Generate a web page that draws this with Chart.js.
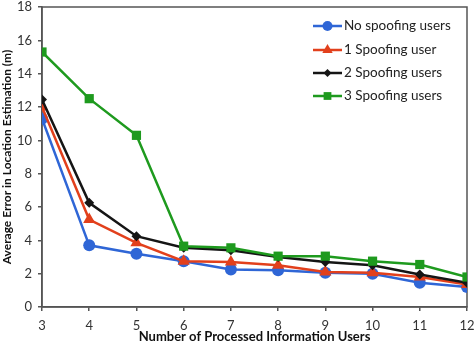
<!DOCTYPE html>
<html>
<head>
<meta charset="utf-8">
<script src="https://cdn.jsdelivr.net/npm/chart.js@4.4.1/dist/chart.umd.min.js"></script>
<style>
  html, body { margin: 0; padding: 0; background: #fff; }
  #wrap { width: 474px; height: 343px; }
</style>
</head>
<body>
<div id="wrap"><canvas id="chart" width="474" height="343"></canvas></div>
<script>
const users = [3, 4, 5, 6, 7, 8, 9, 10, 11, 12];
const noSpoof = [11.3, 3.7, 3.2, 2.75, 2.25, 2.2, 2.05, 2.0, 1.45, 1.2];
const oneSpoof = [12.0, 5.25, 3.85, 2.75, 2.7, 2.5, 2.1, 2.05, 1.8, 1.35];
const twoSpoof = [12.45, 6.25, 4.25, 3.55, 3.4, 3.0, 2.7, 2.5, 1.95, 1.45];
const threeSpoof = [15.3, 12.5, 10.3, 3.65, 3.55, 3.05, 3.05, 2.75, 2.55, 1.8];
const seriesNames = ['No spoofing users', '1 Spoofing user', '2 Spoofing users', '3 Spoofing users'];
const yTicks = [0, 2, 4, 6, 8, 10, 12, 14, 16, 18];

const FONT = 'Lato, "Open Sans", sans-serif';

function toPoints(vals) {
    return vals.map((v, i) => ({ x: users[i], y: v }));
}

const styles = [
    { color: '#2f66d6', pointStyle: 'circle', radius: 6 },
    { color: '#e2401c', pointStyle: 'triangle', radius: 7 },
    { color: '#151515', pointStyle: 'rectRot', radius: 5 },
    { color: '#1e9a1e', pointStyle: 'rect', radius: 6.5 }
];

const allSeries = [noSpoof, oneSpoof, twoSpoof, threeSpoof];

const datasets = allSeries.map((vals, i) => ({
    label: seriesNames[i],
    data: toPoints(vals),
    borderColor: styles[i].color,
    backgroundColor: styles[i].color,
    borderWidth: 2.5,
    pointStyle: styles[i].pointStyle,
    pointRadius: styles[i].radius,
    pointBorderWidth: 0,
    pointBackgroundColor: styles[i].color,
    tension: 0,
    order: 4 - i
}));

// legend drawn inside the plot: short line with the marker in the middle
const lineLegend = {
    id: 'lineLegend',
    afterDraw(chart) {
        const ctx = chart.ctx;
        const x0 = 313, x1 = 342;
        const rows = [26, 50, 73, 96];
        ctx.save();
        seriesNames.forEach((name, i) => {
            const y = rows[i];
            ctx.strokeStyle = styles[i].color;
            ctx.fillStyle = styles[i].color;
            ctx.lineWidth = 2.5;
            ctx.beginPath();
            ctx.moveTo(x0, y);
            ctx.lineTo(x1, y);
            ctx.stroke();
            Chart.helpers.drawPoint(ctx, {
                pointStyle: styles[i].pointStyle,
                radius: styles[i].radius - 1,
                rotation: 0,
                borderWidth: 0
            }, (x0 + x1) / 2, y);
            ctx.fillStyle = '#222';
            ctx.font = '13.5px ' + FONT;
            ctx.textBaseline = 'middle';
            ctx.textAlign = 'left';
            ctx.fillText(name, x1 + 2, y);
        });
        ctx.restore();
    }
};

// box around the plot area (top and right edges)
const frame = {
    id: 'frame',
    beforeDatasetsDraw(chart) {
        const a = chart.chartArea;
        const ctx = chart.ctx;
        ctx.save();
        ctx.strokeStyle = '#555';
        ctx.lineWidth = 1.5;
        ctx.strokeRect(a.left, a.top, a.right - a.left, a.bottom - a.top);
        ctx.restore();
    }
};

new Chart(document.getElementById('chart'), {
    type: 'line',
    data: { datasets },
    plugins: [frame, lineLegend],
    options: {
        responsive: false,
        animation: false,
        layout: { padding: { top: 6, right: 7, left: 0, bottom: 0 } },
        plugins: {
            legend: { display: false },
            tooltip: { enabled: false }
        },
        scales: {
            x: {
                type: 'linear',
                min: 3,
                max: 12,
                afterBuildTicks(scale) {
                    scale.ticks = users.map(v => ({ value: v }));
                },
                afterFit(scale) {
                    scale.height = 36;
                    scale.paddingLeft = 0;
                    scale.paddingRight = 0;
                },
                grid: {
                    display: true,
                    drawOnChartArea: false,
                    drawTicks: true,
                    tickLength: 4,
                    color: '#555',
                    lineWidth: 1.5
                },
                border: { color: '#555', width: 1.5 },
                ticks: {
                    color: '#333',
                    font: { family: FONT, size: 13 },
                    padding: 7,
                    maxRotation: 0
                },
                title: {
                    display: true,
                    text: 'Number of Processed Information Users',
                    color: '#111',
                    font: { family: FONT, size: 13, weight: 'bold' },
                    padding: { top: 0, bottom: -2 }
                }
            },
            y: {
                min: 0,
                max: 18,
                afterBuildTicks(scale) {
                    scale.ticks = yTicks.map(v => ({ value: v }));
                },
                afterFit(scale) {
                    scale.width = 42;
                    scale.paddingTop = 0;
                    scale.paddingBottom = 0;
                },
                grid: {
                    display: true,
                    drawOnChartArea: false,
                    drawTicks: true,
                    tickLength: 4,
                    color: '#555',
                    lineWidth: 1.5
                },
                border: { color: '#555', width: 1.5 },
                ticks: {
                    color: '#333',
                    font: { family: FONT, size: 13 },
                    padding: 6
                },
                title: {
                    display: true,
                    text: 'Average Error in Location Estimation (m)',
                    color: '#111',
                    font: { family: FONT, size: 12, weight: 'bold' },
                    padding: { top: 0, bottom: 0 }
                }
            }
        }
    }
});
</script>
</body>
</html>
